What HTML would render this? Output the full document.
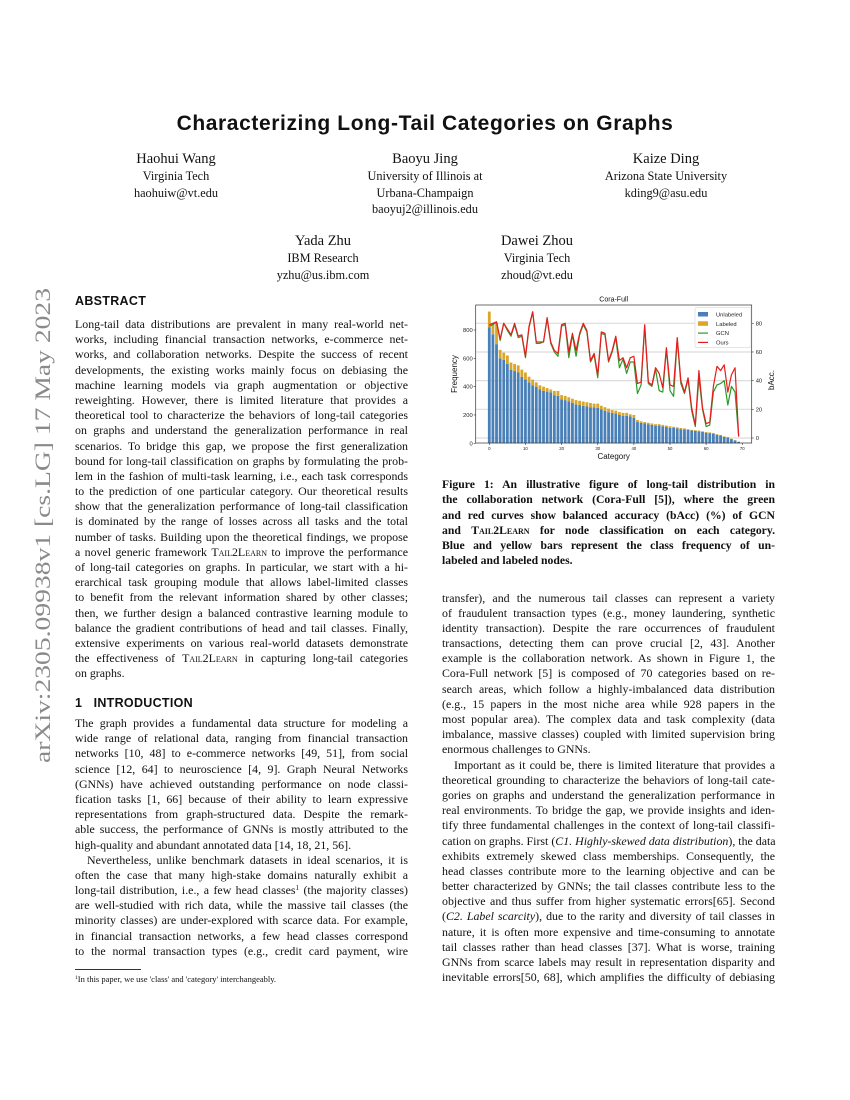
<!DOCTYPE html>
<html><head><meta charset="utf-8">
<style>
*{margin:0;padding:0;box-sizing:border-box}
body{width:850px;height:1100px;background:#fff;position:relative;overflow:hidden;font-family:"Liberation Serif",serif;color:#111}
.abs{position:absolute}
.title{left:0;width:850px;top:112px;text-align:center;font-family:"Liberation Sans",sans-serif;font-weight:bold;font-size:21px;letter-spacing:0.6px}
.au{position:absolute;text-align:center;width:220px;font-size:12.3px;line-height:16.5px}
.au .n{font-size:14.5px;line-height:17px}
.col{position:absolute;width:333px;font-size:11.9px}
.l{height:15.2px;line-height:15.2px;text-align:justify;text-align-last:justify;white-space:nowrap;overflow:visible}
.l.e{text-align-last:left}
.ind{text-indent:12px}
.sc{font-variant:small-caps}
sup{line-height:0;font-size:7px;vertical-align:4px}
.h{font-family:"Liberation Sans",sans-serif;font-weight:bold;font-size:12.5px;letter-spacing:0.3px}
.cap{position:absolute;left:442px;top:477px;width:333px;font-weight:bold;font-size:11.7px}
.cap .l{height:15.3px;line-height:15.3px}
</style></head><body>
<div class="abs" style="left:10px;top:285px;width:46px;height:480px">
<svg width="46" height="480"><text x="0" y="0" transform="translate(40,478) rotate(-90)" font-family="Liberation Serif, serif" font-size="22" fill="#8a8a8a" textLength="475" lengthAdjust="spacingAndGlyphs">arXiv:2305.09938v1  [cs.LG]  17 May 2023</text></svg>
</div>

<div class="abs title">Characterizing Long-Tail Categories on Graphs</div>

<div class="au" style="left:66px;top:151px"><div class="n">Haohui Wang</div><div>Virginia Tech</div><div>haohuiw@vt.edu</div></div>
<div class="au" style="left:315px;top:151px"><div class="n">Baoyu Jing</div><div>University of Illinois at</div><div>Urbana-Champaign</div><div>baoyuj2@illinois.edu</div></div>
<div class="au" style="left:556px;top:151px"><div class="n">Kaize Ding</div><div>Arizona State University</div><div>kding9@asu.edu</div></div>
<div class="au" style="left:213px;top:233px"><div class="n">Yada Zhu</div><div>IBM Research</div><div>yzhu@us.ibm.com</div></div>
<div class="au" style="left:427px;top:233px"><div class="n">Dawei Zhou</div><div>Virginia Tech</div><div>zhoud@vt.edu</div></div>

<div class="abs h" style="left:75px;top:294px">ABSTRACT</div>
<div class="col" style="left:75px;top:317px">
<div class="l">Long-tail data distributions are prevalent in many real-world net-</div>
<div class="l">works, including financial transaction networks, e-commerce net-</div>
<div class="l">works, and collaboration networks. Despite the success of recent</div>
<div class="l">developments, the existing works mainly focus on debiasing the</div>
<div class="l">machine learning models via graph augmentation or objective</div>
<div class="l">reweighting. However, there is limited literature that provides a</div>
<div class="l">theoretical tool to characterize the behaviors of long-tail categories</div>
<div class="l">on graphs and understand the generalization performance in real</div>
<div class="l">scenarios. To bridge this gap, we propose the first generalization</div>
<div class="l">bound for long-tail classification on graphs by formulating the prob-</div>
<div class="l">lem in the fashion of multi-task learning, i.e., each task corresponds</div>
<div class="l">to the prediction of one particular category. Our theoretical results</div>
<div class="l">show that the generalization performance of long-tail classification</div>
<div class="l">is dominated by the range of losses across all tasks and the total</div>
<div class="l">number of tasks. Building upon the theoretical findings, we propose</div>
<div class="l">a novel generic framework <span class="sc">Tail2Learn</span> to improve the performance</div>
<div class="l">of long-tail categories on graphs. In particular, we start with a hi-</div>
<div class="l">erarchical task grouping module that allows label-limited classes</div>
<div class="l">to benefit from the relevant information shared by other classes;</div>
<div class="l">then, we further design a balanced contrastive learning module to</div>
<div class="l">balance the gradient contributions of head and tail classes. Finally,</div>
<div class="l">extensive experiments on various real-world datasets demonstrate</div>
<div class="l">the effectiveness of <span class="sc">Tail2Learn</span> in capturing long-tail categories</div>
<div class="l e">on graphs.</div>
</div>

<div class="abs h" style="left:75px;top:696px">1&nbsp;&nbsp;&nbsp;INTRODUCTION</div>
<div class="col" style="left:75px;top:716px">
<div class="l">The graph provides a fundamental data structure for modeling a</div>
<div class="l">wide range of relational data, ranging from financial transaction</div>
<div class="l">networks [10, 48] to e-commerce networks [49, 51], from social</div>
<div class="l">science [12, 64] to neuroscience [4, 9]. Graph Neural Networks</div>
<div class="l">(GNNs) have achieved outstanding performance on node classi-</div>
<div class="l">fication tasks [1, 66] because of their ability to learn expressive</div>
<div class="l">representations from graph-structured data. Despite the remark-</div>
<div class="l">able success, the performance of GNNs is mostly attributed to the</div>
<div class="l e">high-quality and abundant annotated data [14, 18, 21, 56].</div>
<div class="l ind">Nevertheless, unlike benchmark datasets in ideal scenarios, it is</div>
<div class="l">often the case that many high-stake domains naturally exhibit a</div>
<div class="l">long-tail distribution, i.e., a few head classes<sup>1</sup> (the majority classes)</div>
<div class="l">are well-studied with rich data, while the massive tail classes (the</div>
<div class="l">minority classes) are under-explored with scarce data. For example,</div>
<div class="l">in financial transaction networks, a few head classes correspond</div>
<div class="l">to the normal transaction types (e.g., credit card payment, wire</div>
</div>
<div class="abs" style="left:75px;top:969px;width:66px;border-top:0.8px solid #333"></div>
<div class="abs" style="left:75px;top:974px;font-size:8.5px"><sup style="font-size:5.5px;vertical-align:3px">1</sup>In this paper, we use 'class' and 'category' interchangeably.</div>

<div class="abs" style="left:440px;top:290px;width:340px;height:180px">
<svg id="chart" width="340" height="180" font-family="Liberation Sans, sans-serif"></svg>
</div>
<script>
const categories=[];for(let i=0;i<70;i++)categories.push(i);
const unlabeled=[820,770,700,600,590,560,520,510,500,470,450,430,410,400,380,370,365,360,340,335,310,305,295,285,275,270,265,260,255,255,250,240,230,220,215,210,200,195,195,190,180,150,145,140,135,130,125,125,120,115,110,108,105,100,98,95,90,88,85,80,75,72,68,60,55,45,40,30,20,10];
const labeled=[110,80,150,60,50,60,50,50,50,50,50,40,40,30,30,30,25,20,30,35,30,30,30,30,30,30,30,30,30,25,30,25,25,25,20,20,20,20,20,15,20,15,10,10,10,10,10,10,10,10,10,9,8,8,7,5,5,5,5,5,5,5,5,5,3,5,5,2,2,2];
const gcn=[78,79,81,68,80,75,71,79,70,71,56,77,88,66,66,67,83,66,60,57,78,79,56,72,57,72,79,74,53,58,42,73,72,53,60,70,49,55,45,53,53,31,37,78,38,36,48,33,32,62,33,29,69,38,31,41,19,8,42,20,8,9,32,37,38,40,23,36,32,1];
const ours=[79,80,81,69,80,76,72,80,71,72,57,78,88,67,67,67,84,67,61,59,79,80,60,73,61,73,80,75,54,59,44,74,73,54,61,71,54,56,49,56,57,38,39,79,39,37,49,45,35,63,37,36,70,40,32,42,21,9,47,21,10,11,36,50,47,51,32,44,49,1];
const leftTicks=[0,200,400,600,800];
const rightTicks=[0,20,40,60,80];
const xTicks=[0,10,20,30,40,50,60,70];

const svg=document.getElementById('chart');
const NS='http://www.w3.org/2000/svg';
const PL=35.7,PR=311.7,PT=15,PB=153;
const xS=c=>49.3+c*3.614;
const yL=v=>153.3-v*(113.3/800);
const yR=v=>148-v*(114.7/80);
function mk(tag,attrs,parent){const e=document.createElementNS(NS,tag);for(const k in attrs)e.setAttribute(k,attrs[k]);(parent||svg).appendChild(e);return e;}
function txt(s,attrs){const t=mk('text',attrs);t.textContent=s;return t;}

rightTicks.forEach(v=>{
  const g=mk('line',{x1:PL,x2:PR,y1:yR(v),y2:yR(v),stroke:'#dcdcdc','stroke-width':1.2});
  
  
});
categories.forEach((c,i)=>{
  const x=xS(c)-1.4;
  const b=mk('rect',{x:x,y:yL(unlabeled[i]),width:2.8,height:yL(0)-yL(unlabeled[i]),fill:'#4a80b8'});
  
  
  const t=unlabeled[i]+labeled[i];
  const b2=mk('rect',{x:x,y:yL(t),width:2.8,height:yL(unlabeled[i])-yL(t),fill:'#dba628'});
  
  
});
function line(arr,color,name){
  const p=arr.map((v,i)=>(i?'L':'M')+xS(categories[i]).toFixed(2)+','+yR(v).toFixed(2)).join('');
  const e=mk('path',{d:p,fill:'none',stroke:color,'stroke-width':1.2,'stroke-linejoin':'round'});
  
  
}
line(gcn,'#2a9a2a','gcn-line');
line(ours,'#e81c1c','ours-line');
const fr=mk('rect',{x:PL,y:PT,width:PR-PL,height:PB-PT,fill:'none',stroke:'#333','stroke-width':0.7});


leftTicks.forEach(v=>{
  mk('line',{x1:PL-2,x2:PL,y1:yL(v),y2:yL(v),stroke:'#333','stroke-width':0.6});
  const t=txt(String(v),{x:PL-3,y:yL(v)+2,'font-size':5.8,'text-anchor':'end',fill:'#222'});
  
  
});
rightTicks.forEach(v=>{
  mk('line',{x1:PR,x2:PR+2,y1:yR(v),y2:yR(v),stroke:'#333','stroke-width':0.6});
  const t=txt(String(v),{x:PR+4,y:yR(v)+2,'font-size':5.8,'text-anchor':'start',fill:'#222'});
  
  
});
xTicks.forEach(v=>{
  mk('line',{x1:xS(v),x2:xS(v),y1:PB,y2:PB+2,stroke:'#333','stroke-width':0.6});
  const t=txt(String(v),{x:xS(v),y:PB+7,'font-size':4.3,'text-anchor':'middle',fill:'#222'});
  
  
});
const tt=txt('Cora-Full',{x:(PL+PR)/2,y:11.5,'font-size':7,'text-anchor':'middle',fill:'#111'});


const xt=txt('Category',{x:(PL+PR)/2,y:169,'font-size':8,'text-anchor':'middle',fill:'#111'});


const ylt=txt('Frequency',{x:0,y:0,'font-size':8,'text-anchor':'middle',fill:'#111',transform:'translate(17,84) rotate(-90)'});


const yrt=txt('bAcc.',{x:0,y:0,'font-size':8,'text-anchor':'middle',fill:'#111',transform:'translate(334,90) rotate(-90)'});


const lg=mk('rect',{x:255,y:17.5,width:56,height:40,fill:'#fff',stroke:'#ccc','stroke-width':0.5,rx:1.5});


const legendNames=['Unlabeled','Labeled','GCN','Ours'];
const legendColors=['#4a80b8','#dba628','#2a9a2a','#e81c1c'];
legendNames.forEach((n,i)=>{
  const y=24.5+i*9.3;
  if(i<2){const r=mk('rect',{x:258,y:y-2.5,width:10,height:4.5,fill:legendColors[i]});}
  else{const r=mk('line',{x1:258,x2:268,y1:y,y2:y,stroke:legendColors[i],'stroke-width':1.2});}
  const t=txt(n,{x:276,y:y+2,'font-size':5.8,fill:'#222'});
  
  
});
</script>

<div class="cap">
<div class="l">Figure 1: An illustrative figure of long-tail distribution in</div>
<div class="l">the collaboration network (Cora-Full [5]), where the green</div>
<div class="l">and red curves show balanced accuracy (bAcc) (%) of GCN</div>
<div class="l">and <span class="sc">Tail2Learn</span> for node classification on each category.</div>
<div class="l">Blue and yellow bars represent the class frequency of un-</div>
<div class="l e">labeled and labeled nodes.</div>
</div>

<div class="col" style="left:442px;top:590.5px">
<div class="l">transfer), and the numerous tail classes can represent a variety</div>
<div class="l">of fraudulent transaction types (e.g., money laundering, synthetic</div>
<div class="l">identity transaction). Despite the rare occurrences of fraudulent</div>
<div class="l">transactions, detecting them can prove crucial [2, 43]. Another</div>
<div class="l">example is the collaboration network. As shown in Figure 1, the</div>
<div class="l">Cora-Full network [5] is composed of 70 categories based on re-</div>
<div class="l">search areas, which follow a highly-imbalanced data distribution</div>
<div class="l">(e.g., 15 papers in the most niche area while 928 papers in the</div>
<div class="l">most popular area). The complex data and task complexity (data</div>
<div class="l">imbalance, massive classes) coupled with limited supervision bring</div>
<div class="l e">enormous challenges to GNNs.</div>
<div class="l ind">Important as it could be, there is limited literature that provides a</div>
<div class="l">theoretical grounding to characterize the behaviors of long-tail cate-</div>
<div class="l">gories on graphs and understand the generalization performance in</div>
<div class="l">real environments. To bridge the gap, we provide insights and iden-</div>
<div class="l">tify three fundamental challenges in the context of long-tail classifi-</div>
<div class="l">cation on graphs. First (<i>C1. Highly-skewed data distribution</i>), the data</div>
<div class="l">exhibits extremely skewed class memberships. Consequently, the</div>
<div class="l">head classes contribute more to the learning objective and can be</div>
<div class="l">better characterized by GNNs; the tail classes contribute less to the</div>
<div class="l">objective and thus suffer from higher systematic errors[65]. Second</div>
<div class="l">(<i>C2. Label scarcity</i>), due to the rarity and diversity of tail classes in</div>
<div class="l">nature, it is often more expensive and time-consuming to annotate</div>
<div class="l">tail classes rather than head classes [37]. What is worse, training</div>
<div class="l">GNNs from scarce labels may result in representation disparity and</div>
<div class="l">inevitable errors[50, 68], which amplifies the difficulty of debiasing</div>
</div>
</body></html>
